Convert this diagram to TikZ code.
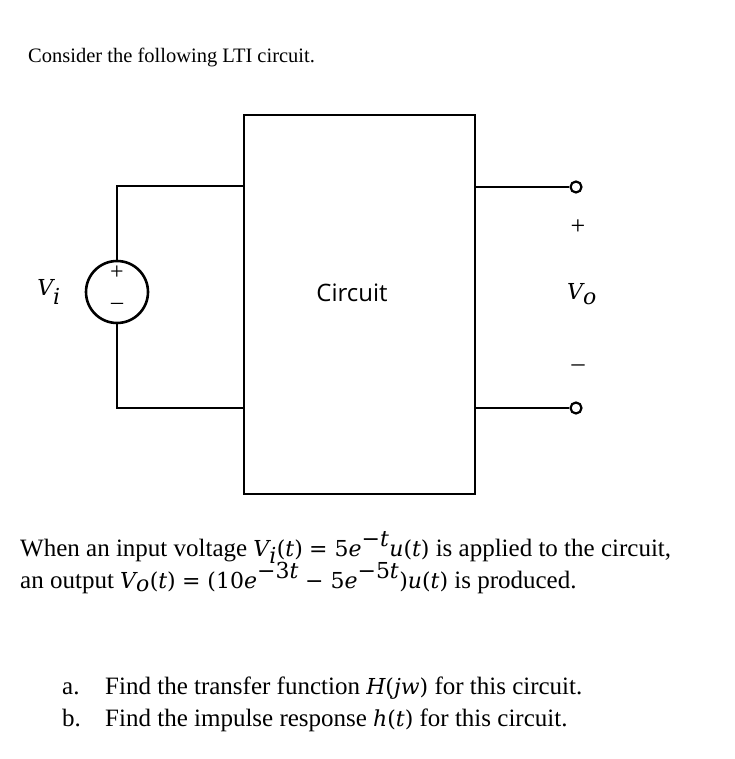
\documentclass[tikz,border=0pt]{standalone}
\usepackage{fontspec}
\setmainfont{Liberation Serif}
\newfontfamily\segoe{Open Sans}
\newfontfamily\dvs{DejaVu Serif}
\newcommand{\mI}[1]{{\dvs\itshape\fontsize{22}{24}\selectfont #1}}
\newcommand{\mU}[1]{{\dvs\fontsize{22}{24}\selectfont #1}}
\begin{document}
\begin{tikzpicture}[x=1pt,y=-1pt,
  wire/.style={line width=2.6pt},
  term/.style={circle,draw,line width=2.2pt,fill=white,minimum size=11pt,inner sep=0pt},
  txt/.style={anchor=base west,inner sep=0pt,font=\fontsize{25}{28}\selectfont}]
\useasboundingbox (0,0) rectangle (734,759);
\node[txt] (t0) at (28,63) {\fontsize{20.5}{22}\selectfont Consider the following LTI circuit.};
\node[draw,wire,minimum width=231pt,minimum height=379pt,inner sep=0pt] (box) at (359.5,304.5) {};
\node[font=\segoe\fontsize{24}{28}\selectfont] (lab) at (352,293) {Circuit};
\node[circle,draw,wire,minimum size=62pt,inner sep=0pt] (src) at (117,292) {};
\node[font=\fontsize{24}{24}\selectfont,inner sep=0pt] (pl) at (117,273) {+};
\node[font=\fontsize{24}{24}\selectfont,inner sep=0pt] (mi) at (117,306) {\textendash};
\node[font=\fontsize{20}{22}\selectfont] (vi) at (49,292) {\mI{V}\textsubscript{\mI{i}}};
\coordinate (tl) at (244,186);
\coordinate (bl) at (244,408);
\draw[wire] (tl) -| (src.north);
\draw[wire] (bl) -| (src.south);
\node[term] (ta) at (576,187) {};
\node[term] (tb) at (576,408) {};
\draw[wire] (475,187) -- (ta.west);
\draw[wire] (475,408) -- (tb.west);
\node[font=\fontsize{26}{26}\selectfont] (p2) at (578,227) {+};
\node[font=\fontsize{20}{22}\selectfont] (vo) at (582,294) {\mI{V}\textsubscript{\mI{o}}};
\node[font=\fontsize{26}{26}\selectfont] (m2) at (578,368) {\textendash};
\node[txt] (l1) at (20,556) {When an input voltage \mI{V}\textsubscript{\mI{i}}\mU{(}\mI{t}\mU{)} \mU{= 5}\mI{e}\textsuperscript{\mU{−}\mI{t}}\mI{u}\mU{(}\mI{t}\mU{)} is applied to the circuit,};
\node[txt] (l2) at (20,588) {an output \mI{V}\textsubscript{\mI{o}}\mU{(}\mI{t}\mU{)} \mU{= (10}\mI{e}\textsuperscript{\mU{−3}\mI{t}} \mU{− 5}\mI{e}\textsuperscript{\mU{−5}\mI{t}}\mU{)}\mI{u}\mU{(}\mI{t}\mU{)} is produced.};
\node[txt] (a) at (62,694) {a.};
\node[txt] (at) at (105,694) {Find the transfer function \mI{H}\mU{(}\mI{jw}\mU{)} for this circuit.};
\node[txt] (b) at (62,726) {b.};
\node[txt] (bt) at (105,726) {Find the impulse response \mI{h}\mU{(}\mI{t}\mU{)} for this circuit.};
\end{tikzpicture}
\end{document}
